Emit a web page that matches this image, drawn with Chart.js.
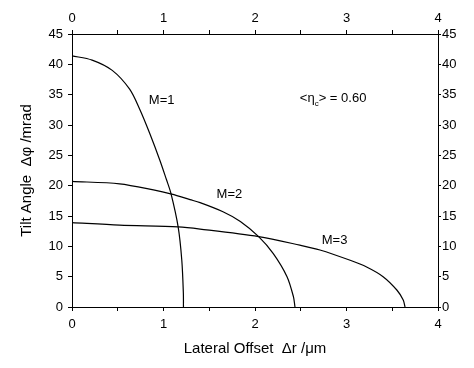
<!DOCTYPE html>
<html>
<head>
<meta charset="utf-8">
<script src="https://cdn.jsdelivr.net/npm/chart.js@4.4.1/dist/chart.umd.min.js"></script>
<style>
  html, body { margin: 0; padding: 0; background: #fff; }
  #wrap { width: 474px; height: 368px; }
</style>
</head>
<body>
<div id="wrap"><canvas id="c"></canvas></div>
<script>
// curves: lateral offset (um) vs tilt angle (mrad)
const m1X = [0, 0.22, 0.44, 0.63, 0.74, 0.85, 0.96, 1.03, 1.08, 1.16, 1.2, 1.217, 1.218];
const m1Y = [41.4, 40.7, 39.0, 35.9, 32.6, 28.6, 24.2, 21.1, 18.8, 13.2, 7.7, 2.3, 0];
const m2X = [0, 0.52, 0.89, 1.09, 1.29, 1.4, 1.65, 1.84, 2.04, 2.2, 2.35, 2.42, 2.437];
const m2Y = [20.7, 20.3, 19.3, 18.6, 17.7, 17.2, 15.7, 14.1, 11.6, 8.8, 5.0, 1.7, 0];
const m3X = [0, 0.52, 1.16, 1.4, 2.04, 2.49, 2.71, 3.04, 3.22, 3.4, 3.55, 3.62, 3.64];
const m3Y = [13.9, 13.5, 13.2, 12.85, 11.6, 10.2, 9.4, 7.7, 6.6, 5.0, 2.8, 1.15, 0];

const xTicks = [0, 1, 2, 3, 4];
const yTicks = [0, 5, 10, 15, 20, 25, 30, 35, 40, 45];

const labels = [
  { text: "M=1", x: 0.98, y: 34.1 },
  { text: "M=2", x: 1.72, y: 18.6 },
  { text: "M=3", x: 2.87, y: 10.9 }
];

const pts = (xs, ys) => xs.map((x, i) => ({ x: x, y: ys[i] }));

const fontFam = "'Liberation Sans', Arial, sans-serif";

function curve(data) {
  return {
    data: data,
    showLine: true,
    borderColor: "#000",
    borderWidth: 1.2,
    pointRadius: 0,
    tension: 0.3
  };
}

const textPlugin = {
  id: "notes",
  afterDatasetsDraw(chart) {
    const ctx = chart.ctx;
    const xs = chart.scales.x, ys = chart.scales.y;
    ctx.save();
    ctx.fillStyle = "#000";
    ctx.font = "13px " + fontFam;
    ctx.textAlign = "center";
    ctx.textBaseline = "middle";
    labels.forEach(l => ctx.fillText(l.text, xs.getPixelForValue(l.x), ys.getPixelForValue(l.y)));
    // <eta_c> = 0.60
    let px = xs.getPixelForValue(2.49), py = ys.getPixelForValue(34.3);
    ctx.textAlign = "left";
    ctx.fillText("<\u03b7", px, py);
    px += ctx.measureText("<\u03b7").width;
    ctx.font = "8px " + fontFam;
    ctx.fillText("c", px, py + 5);
    px += ctx.measureText("c").width;
    ctx.font = "13px " + fontFam;
    ctx.fillText("> = 0.60", px, py);
    ctx.restore();
  }
};

function axisTicks(step, major) {
  return {
    stepSize: step,
    color: "#000",
    font: { family: fontFam, size: 13 },
    callback: v => (Math.abs(v / major - Math.round(v / major)) < 1e-6 ? String(v) : "")
  };
}

const grid = { drawOnChartArea: false, color: "#000", tickLength: 4, tickColor: "#000" };
const border = { color: "#000", width: 1 };

new Chart(document.getElementById("c"), {
  type: "scatter",
  data: {
    datasets: [curve(pts(m1X, m1Y)), curve(pts(m2X, m2Y)), curve(pts(m3X, m3Y))]
  },
  options: {
    responsive: true,
    maintainAspectRatio: false,
    animation: false,
    layout: { padding: 0 },
    plugins: { legend: { display: false }, tooltip: { enabled: false } },
    scales: {
      x: {
        type: "linear", position: "bottom",
        min: xTicks[0], max: xTicks[xTicks.length - 1],
        ticks: Object.assign(axisTicks(0.5, 1), { padding: 6, maxRotation: 0 }),
        grid: grid, border: border,
        title: { display: true, text: "Lateral Offset  \u0394r /\u03bcm", color: "#000",
                 font: { family: fontFam, size: 15 }, padding: { top: 0, bottom: 10 } },
        afterFit: s => { s.height = 61; }
      },
      x2: {
        type: "linear", position: "top",
        min: xTicks[0], max: xTicks[xTicks.length - 1],
        ticks: Object.assign(axisTicks(0.5, 1), { padding: 4, maxRotation: 0 }),
        grid: grid, border: border,
        afterFit: s => { s.height = 34; }
      },
      y: {
        type: "linear", position: "left",
        min: yTicks[0], max: yTicks[yTicks.length - 1],
        ticks: Object.assign(axisTicks(2.5, 5), { padding: 5 }),
        grid: grid, border: border,
        title: { display: true, text: "Tilt Angle  \u0394\u03c6 /mrad", color: "#000",
                 font: { family: fontFam, size: 15 }, padding: { top: 18, bottom: 0 } },
        afterFit: s => { s.width = 72; }
      },
      y2: {
        type: "linear", position: "right",
        min: yTicks[0], max: yTicks[yTicks.length - 1],
        ticks: Object.assign(axisTicks(2.5, 5), { padding: 1 }),
        grid: Object.assign({}, grid, { tickLength: 3 }), border: border,
        afterFit: s => { s.width = 36; }
      }
    }
  },
  plugins: [textPlugin]
});
</script>
</body>
</html>
